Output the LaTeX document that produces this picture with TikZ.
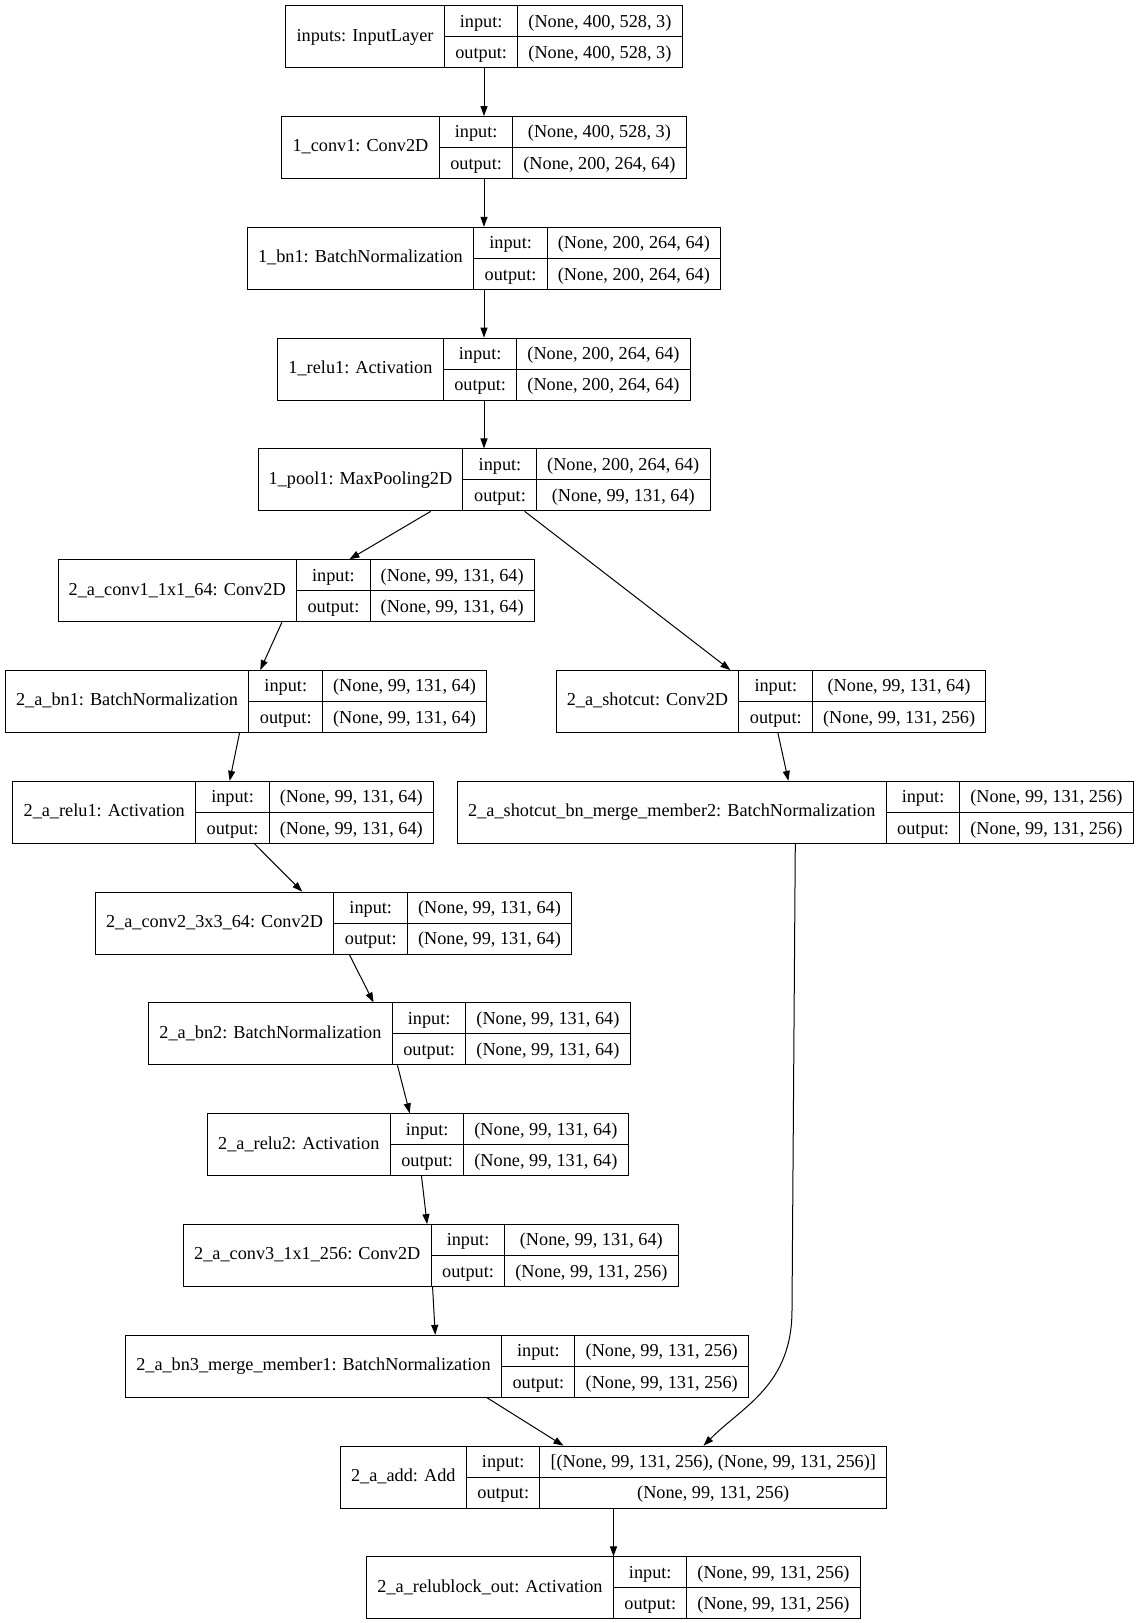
\documentclass[tikz,border=0pt]{standalone}
\usepackage{fontspec}
\setmainfont{Liberation Serif}
\usetikzlibrary{arrows.meta}
\setlength{\arrayrulewidth}{1pt}
\setlength{\tabcolsep}{10.7pt}
\renewcommand{\arraystretch}{1.39}
\newcommand{\rec}[3]{\begin{tabular}{c|@{}c@{}}#1 & \begin{tabular}{c|c}input: & #2\\\hline output: & #3\end{tabular}\end{tabular}}

\begin{document}
\begin{tikzpicture}[x=1pt, y=1pt, line width=1pt, >={Triangle[length=10pt, width=7pt]},
    layer/.style = {draw, inner sep=0pt, font=\fontsize{18.25}{21.9}\selectfont}]
    \useasboundingbox (0,0) rectangle (1138,-1623);
    \node[layer] (inputs) at (484,-36.7) {\rec{inputs: InputLayer}{(None, 400, 528, 3)}{(None, 400, 528, 3)}};
    \node[layer] (conv1) at (484,-147.5) {\rec{1\_conv1: Conv2D}{(None, 400, 528, 3)}{(None, 200, 264, 64)}};
    \node[layer] (bn1) at (484,-258.3) {\rec{1\_bn1: BatchNormalization}{(None, 200, 264, 64)}{(None, 200, 264, 64)}};
    \node[layer] (relu1) at (484,-369.1) {\rec{1\_relu1: Activation}{(None, 200, 264, 64)}{(None, 200, 264, 64)}};
    \node[layer] (pool1) at (484,-479.9) {\rec{1\_pool1: MaxPooling2D}{(None, 200, 264, 64)}{(None, 99, 131, 64)}};
    \node[layer] (aconv1) at (296.2,-590.7) {\rec{2\_a\_conv1\_1x1\_64: Conv2D}{(None, 99, 131, 64)}{(None, 99, 131, 64)}};
    \node[layer] (abn1) at (246,-701.5) {\rec{2\_a\_bn1: BatchNormalization}{(None, 99, 131, 64)}{(None, 99, 131, 64)}};
    \node[layer] (shortcut) at (771,-701.5) {\rec{2\_a\_shotcut: Conv2D}{(None, 99, 131, 64)}{(None, 99, 131, 256)}};
    \node[layer] (arelu1) at (223.2,-812.3) {\rec{2\_a\_relu1: Activation}{(None, 99, 131, 64)}{(None, 99, 131, 64)}};
    \node[layer] (shortbn) at (795.3,-812.3) {\rec{2\_a\_shotcut\_bn\_merge\_member2: BatchNormalization}{(None, 99, 131, 256)}{(None, 99, 131, 256)}};
    \node[layer] (aconv2) at (333.5,-923.1) {\rec{2\_a\_conv2\_3x3\_64: Conv2D}{(None, 99, 131, 64)}{(None, 99, 131, 64)}};
    \node[layer] (abn2) at (389.4,-1033.9) {\rec{2\_a\_bn2: BatchNormalization}{(None, 99, 131, 64)}{(None, 99, 131, 64)}};
    \node[layer] (arelu2) at (417.8,-1144.7) {\rec{2\_a\_relu2: Activation}{(None, 99, 131, 64)}{(None, 99, 131, 64)}};
    \node[layer] (aconv3) at (430.8,-1255.5) {\rec{2\_a\_conv3\_1x1\_256: Conv2D}{(None, 99, 131, 64)}{(None, 99, 131, 256)}};
    \node[layer] (abn3) at (437,-1366.3) {\rec{2\_a\_bn3\_merge\_member1: BatchNormalization}{(None, 99, 131, 256)}{(None, 99, 131, 256)}};
    \node[layer] (add) at (613.5,-1477.1) {\rec{2\_a\_add: Add}{[(None, 99, 131, 256), (None, 99, 131, 256)]}{(None, 99, 131, 256)}};
    \node[layer] (out) at (613.5,-1587.9) {\rec{2\_a\_relublock\_out: Activation}{(None, 99, 131, 256)}{(None, 99, 131, 256)}};
    \coordinate (bend) at (792,-1310);

    \draw[->] (inputs) -- (conv1);
    \draw[->] (conv1) -- (bn1);
    \draw[->] (bn1) -- (relu1);
    \draw[->] (relu1) -- (pool1);
    \draw[->] (pool1) -- (aconv1);
    \draw[->] (pool1) -- (shortcut);
    \draw[->] (aconv1) -- (abn1);
    \draw[->] (abn1) -- (arelu1);
    \draw[->] (arelu1) -- (aconv2);
    \draw[->] (aconv2) -- (abn2);
    \draw[->] (abn2) -- (arelu2);
    \draw[->] (arelu2) -- (aconv3);
    \draw[->] (aconv3) -- (abn3);
    \draw[->] (abn3) -- (add);
    \draw[->] (shortcut) -- (shortbn);
    \draw[->] (shortbn.south) -- (bend) .. controls +(0,-75) and +(40,40) .. ([xshift=90pt]add.north);
    \draw[->] (add) -- (out);
\end{tikzpicture}
\end{document}
